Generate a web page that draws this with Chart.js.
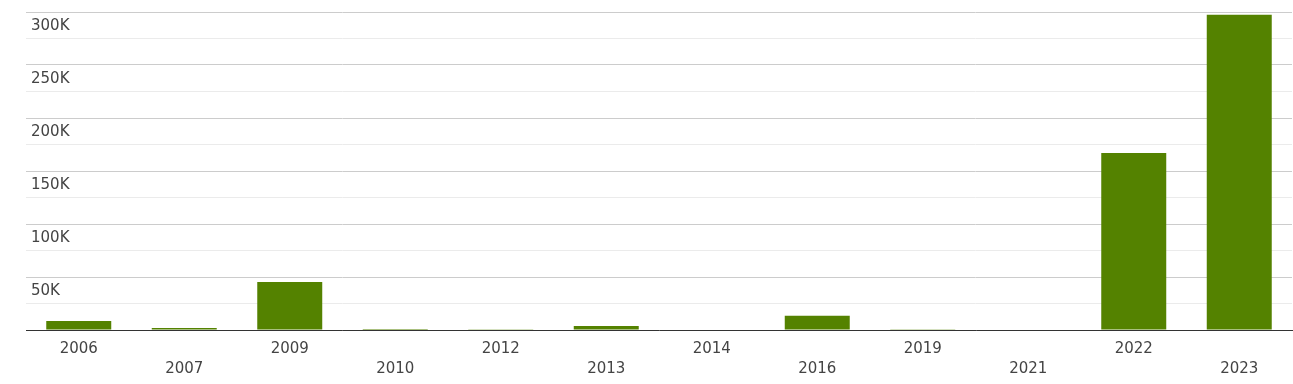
<!DOCTYPE html>
<html>
<head>
<meta charset="utf-8">
<script src="https://cdn.jsdelivr.net/npm/chart.js@4/dist/chart.umd.min.js"></script>
<style>
  html, body { margin: 0; padding: 0; background: #fff; }
  #wrap { width: 1293px; height: 384px; }
</style>
</head>
<body>
<div id="wrap"><canvas id="c" width="1293" height="384"></canvas></div>
<script>
const categories = ['2006','2007','2009','2010','2012','2013','2014','2016','2019','2021','2022','2023'];
const values = [8500, 1900, 45300, 1000, 200, 3800, 0, 13500, 200, 500, 167000, 297500];
const yMax = 300000;
const yStep = 25000;
const yLabelStep = 50000;

const xLabels = categories.map((c, i) => i % 2 === 0 ? c : ['', c]);

new Chart(document.getElementById('c'), {
  type: 'bar',
  data: {
    labels: xLabels,
    datasets: [{
      data: values,
      backgroundColor: '#548200',
      borderWidth: 0,
      barPercentage: 0.616,
      categoryPercentage: 1.0
    }]
  },
  options: {
    responsive: false,
    animation: false,
    layout: { padding: { left: 26, right: 1, top: 12, bottom: 0 } },
    plugins: { legend: { display: false }, tooltip: { enabled: false } },
    scales: {
      x: {
        afterFit: (s) => { s.height = 54; s.paddingLeft = 0; s.paddingRight = 0; },
        grid: { display: false, drawTicks: false },
        border: { display: true, color: '#333', width: 1 },
        ticks: {
          autoSkip: false,
          maxRotation: 0,
          padding: 9,
          color: '#444',
          font: { family: 'DejaVu Sans', size: 15, lineHeight: 1.333 }
        }
      },
      y: {
        min: 0,
        max: yMax,
        afterFit: (s) => { s.width = 0; s.paddingTop = 0; s.paddingBottom = 0; },
        border: { display: false },
        grid: {
          drawTicks: false,
          color: (ctx) => (ctx.tick && ctx.tick.value % yLabelStep === 0) ? '#cccccc' : '#ebebeb',
          lineWidth: 1
        },
        ticks: {
          stepSize: yStep,
          mirror: true,
          padding: 5,
          labelOffset: 14,
          color: '#444',
          font: { family: 'DejaVu Sans', size: 15 },
          callback: (v) => (v !== 0 && v % yLabelStep === 0) ? (v / 1000) + 'K' : ''
        }
      }
    }
  }
});
</script>
</body>
</html>
